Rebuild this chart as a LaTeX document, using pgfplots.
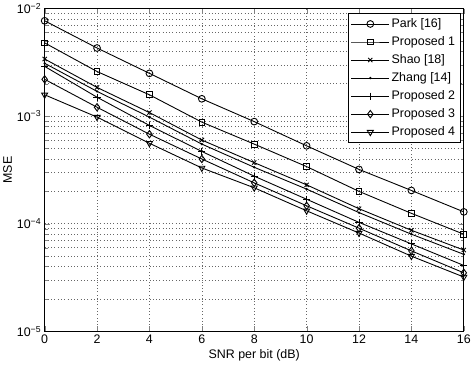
\documentclass[border=0pt]{standalone}
\usepackage{fontspec}
\setmainfont{Liberation Sans}
\usepackage{pgfplots}
\pgfplotsset{compat=1.18}
\begin{document}
\begin{tikzpicture}
\begin{axis}[
  scale only axis,
  width=422pt, height=325pt,
  ymode=log,
  xmin=0, xmax=16, ymin=1e-5, ymax=1e-2,
  xtick={0,2,...,16},
  ytick={1e-5,1e-4,1e-3,1e-2},
  yticklabels={10\textsuperscript{−5},10\textsuperscript{−4},10\textsuperscript{−3},10\textsuperscript{−2}},
  /pgf/number format/assume math mode=true,
  tick label style={font=\fontsize{12.5}{13}\selectfont},
  label style={font=\fontsize{12.5}{13}\selectfont},
  xlabel={SNR per bit (dB)},
  ylabel={MSE},
  xlabel style={yshift=1pt},
  ylabel style={yshift=-2pt},
  grid=both,
  major grid style={dash pattern=on 0.7pt off 2.6pt, black!60, line width=0.6pt},
  minor grid style={dash pattern=on 0.7pt off 2.6pt, black!60, line width=0.6pt},
  minor x tick num=0,
  tick align=inside,
  major tick length=5pt,
  minor tick length=3pt,
  axis line style={line width=0.7pt},
  every axis plot/.append style={black, line width=0.9pt, mark options={solid, fill=white}},
  legend style={at={(0.992,0.985)}, anchor=north east, font=\fontsize{12.5}{14}\selectfont, draw=black, line width=0.7pt, cells={anchor=west}, row sep=3.6pt, inner xsep=3pt, inner ysep=3pt},
  legend cell align=left,
  legend image code/.code={\draw[mark repeat=2,mark phase=2,#1] plot coordinates {(0pt,0pt)(19pt,0pt)(38pt,0pt)};},
]
\addplot[mark=o, mark size=3.4pt] coordinates {(0,7.7e-3)(2,4.3e-3)(4,2.5e-3)(6,1.45e-3)(8,8.9e-4)(10,5.3e-4)(12,3.2e-4)(14,2.04e-4)(16,1.29e-4)};
\addlegendentry{Park [16]}
\addplot[mark=square, mark size=2.9pt] coordinates {(0,4.8e-3)(2,2.6e-3)(4,1.58e-3)(6,8.8e-4)(8,5.5e-4)(10,3.4e-4)(12,2.0e-4)(14,1.25e-4)(16,8.0e-5)};
\addlegendentry{Proposed 1}
\addplot[mark=x, mark size=3pt] coordinates {(0,3.4e-3)(2,1.85e-3)(4,1.08e-3)(6,6.0e-4)(8,3.7e-4)(10,2.3e-4)(12,1.38e-4)(14,8.7e-5)(16,5.7e-5)};
\addlegendentry{Shao [18]}
\addplot[mark=*, mark size=0.7pt, mark options={fill=black}] coordinates {(0,3.1e-3)(2,1.7e-3)(4,9.8e-4)(6,5.5e-4)(8,3.35e-4)(10,2.1e-4)(12,1.27e-4)(14,8.0e-5)(16,5.2e-5)};
\addlegendentry{Zhang [14]}
\addplot[mark=+, mark size=3.6pt] coordinates {(0,2.9e-3)(2,1.5e-3)(4,8.2e-4)(6,4.7e-4)(8,2.77e-4)(10,1.69e-4)(12,1.03e-4)(14,6.5e-5)(16,4.1e-5)};
\addlegendentry{Proposed 2}
\addplot[mark=diamond, mark size=3.7pt] coordinates {(0,2.2e-3)(2,1.21e-3)(4,6.8e-4)(6,4.0e-4)(8,2.4e-4)(10,1.47e-4)(12,9.1e-5)(14,5.6e-5)(16,3.5e-5)};
\addlegendentry{Proposed 3}
\addplot[mark=triangle, mark size=3.5pt, mark options={rotate=180}] coordinates {(0,1.58e-3)(2,9.8e-4)(4,5.6e-4)(6,3.3e-4)(8,2.16e-4)(10,1.32e-4)(12,8.2e-5)(14,5.0e-5)(16,3.2e-5)};
\addlegendentry{Proposed 4}
\end{axis}
\end{tikzpicture}
\end{document}
